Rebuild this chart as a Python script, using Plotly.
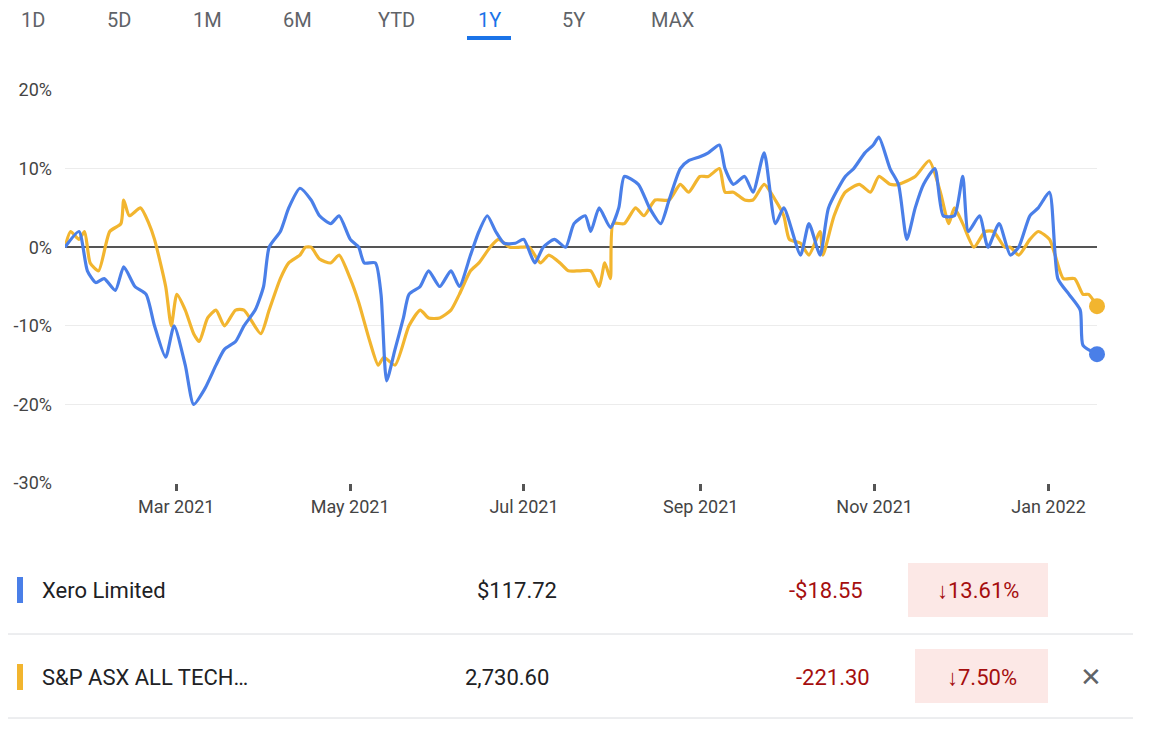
import plotly.graph_objects as go
import datetime as dt

start = dt.date(2021, 1, 21)
span_days = 362  # trading calendar span between first and last point
xero_days = [0,5,8,11,14,18,21,25,29,32,36,39,43,46,50,54,57,61,64,68,71,73,77,80,84,88,91,95,98,102,105,107,111,113,115,118,121,123,127,130,134,138,141,145,148,151,154,157,161,164,168,171,175,179,182,186,188,191,195,198,200,205,209,213,216,220,223,227,230,234,236,239,243,246,250,254,257,263,266,270,273,279,282,286,289,291,295,298,301,304,307,311,314,318,321,323,327,330,334,338,341,345,348,352,355,359,363,364,369]
xero_pct = [0,2,-3,-4.5,-4,-5.5,-2.5,-5,-6,-10,-14,-10,-15,-20,-18,-15,-13,-12,-10,-8,-5,0,2,5,7.5,6,4,3,4,1,0,-2,-2,-6,-17,-13,-9,-6,-5,-3,-5,-3,-5,-1,2,4,2,0.5,0.5,1,-2,0,1,0,3,4,2,5,2.5,5,9,8,5,3,6,10,11,11.5,12,13,10,8,9,7,12,3,5,-1,3,-1,5,9,10,12,13,14,10,8,1,5,8,10,4,4,9,2,4,0,3,-1,0,4,5,7,-4,-6,-8,-12.5,-13.61]
asx_days = [0,2,5,7,9,12,16,20,21,23,27,30,32,36,38,40,43,46,48,51,54,57,61,64,70,73,77,80,84,86,88,91,95,98,102,105,109,112,114,118,123,127,130,134,138,141,145,148,152,155,159,163,166,170,173,177,180,184,188,191,193,195,196,200,204,207,211,216,220,223,227,230,234,236,239,243,246,250,254,257,259,263,266,270,271,275,279,284,288,291,295,298,304,309,313,316,318,321,325,329,332,336,338,341,345,348,352,354,357,361,364,366,369]
asx_pct = [0,2,1,2,-2,-3,2,3,6,4,5,3,1,-5,-10,-6,-8,-11,-12,-9,-8,-10,-8,-8,-11,-8,-4,-2,-1,0,0,-1.5,-2,-1,-4,-7,-12,-15,-14,-15,-10,-8,-9,-9,-8,-6,-3,-2,0,1,0,0,0,-2,-1,-2,-3,-3,-3,-5,-2,-4,3,3,5,4,6,6,8,7,9,9,10,7,7,6,6,8,6,4,1,0.5,-1,2,-1,4,7,8,7,9,8,8,9,11,7,3,5,3,0,2,2,0,0,-1,1,2,1,-1,-4,-4,-6,-6,-7.5]
tabs = ["1D","5D","1M","6M","YTD","1Y","5Y","MAX"]
tab_x = [33,119,207,297,396,489,573,673]
y_ticks = [20,10,0,-10,-20,-30]
x_tick_dates = ["2021-03-01","2021-05-01","2021-07-01","2021-09-01","2021-11-01","2022-01-01"]
x_tick_labels = ["Mar 2021","May 2021","Jul 2021","Sep 2021","Nov 2021","Jan 2022"]

BLUE = "#4a7fe8"; YEL = "#f2b52f"; RED = "#a50e0e"; INK = "#202124"
toD = lambda ds: [dt.datetime.combine(start, dt.time()) + dt.timedelta(days=d * span_days / 369) for d in ds]

fig = go.Figure()
for ds, vs, c in [(asx_days, asx_pct, YEL), (xero_days, xero_pct, BLUE)]:
    fig.add_trace(go.Scatter(x=toD(ds), y=vs, mode="lines", line=dict(color=c, width=3.2, shape="spline", smoothing=0.6), hoverinfo="skip", cliponaxis=False))
    fig.add_trace(go.Scatter(x=toD(ds[-1:]), y=vs[-1:], mode="markers", marker=dict(color=c, size=16), cliponaxis=False))

OFF = 8  # page body margin
W, H = 1174 - OFF, 738 - OFF
L, R, T, B = 65 - OFF, 1097 - OFF, 90 - OFF, 483 - OFF
px = lambda x: (x - OFF - L) / (R - L)
py = lambda y: (B - (y - OFF)) / (B - T)

fig.update_layout(
    width=W, height=H, showlegend=False, plot_bgcolor="white", paper_bgcolor="white",
    margin=dict(l=L, r=W-R, t=T, b=H-B, autoexpand=False),
    font=dict(family="Roboto", color=INK),
    xaxis=dict(range=[start, start + dt.timedelta(days=span_days)], showgrid=False, tickvals=x_tick_dates, ticktext=x_tick_labels,
               ticks="outside", ticklen=7, tickwidth=3, tickcolor="#555", tickfont=dict(size=18, color="#444"), showline=False, zeroline=False, automargin=False),
    yaxis=dict(range=[-30, 20], tickvals=y_ticks, ticktext=[f"{v}%" for v in y_ticks], gridcolor="#ececec", gridwidth=1, automargin=False,
               zeroline=True, zerolinecolor="#555", zerolinewidth=1.5, tickfont=dict(size=18, color="#444"), ticklabelstandoff=12),
)

def ann(text, x, y, xanchor="center", **font):
    fig.add_annotation(text=text, x=px(x), y=py(y), xanchor=xanchor, yanchor="middle", xref="paper", yref="paper",
                       showarrow=False, font=font)

for t, x in zip(tabs, tab_x):
    ann(t, x, 20, size=20, color="#1a73e8" if t == "1Y" else "#5f6368")
def rect(x0, x1, y0, y1, c):
    return dict(type="rect", xref="paper", yref="paper", x0=px(x0), x1=px(x1), y0=py(y0), y1=py(y1), fillcolor=c, line_width=0, layer="below")
shapes = [rect(467, 511, 36, 40, "#1a73e8")]
rows = [
    (590, BLUE, "Xero Limited", "$117.72", 517, "-$18.55", 865, 908, 563, 617, "↓13.61%", False),
    (677, YEL, "S&P ASX ALL TECH…", "2,730.60", 507, "-221.30", 872, 915, 649, 703, "↓7.50%", True),
]
for (y, c, name, price, pxc, chg, chx, bx0, by0, by1, pct, close) in rows:
    shapes.append(rect(17, 23, y-13, y+13, c))
    shapes.append(rect(bx0, 1048, by0, by1, "#fce8e6"))
    ann(name, 40, y, "left", size=22, color=INK)
    ann(price, pxc, y, size=22, color=INK)
    ann(chg, chx, y, "right", size=22, color=RED)
    ann(pct, (bx0 + 1048) / 2, y, size=22, color=RED)
    if close:
        ann("✕", 1091, y, size=26, color="#5f6368", family="DejaVu Sans")
for yl in (634, 718):
    shapes.append(dict(type="line", xref="paper", yref="paper", x0=px(0), x1=px(1133), y0=py(yl), y1=py(yl), line=dict(color="#dadce0", width=1)))
fig.update_layout(shapes=shapes)
fig.write_html("out.html")
